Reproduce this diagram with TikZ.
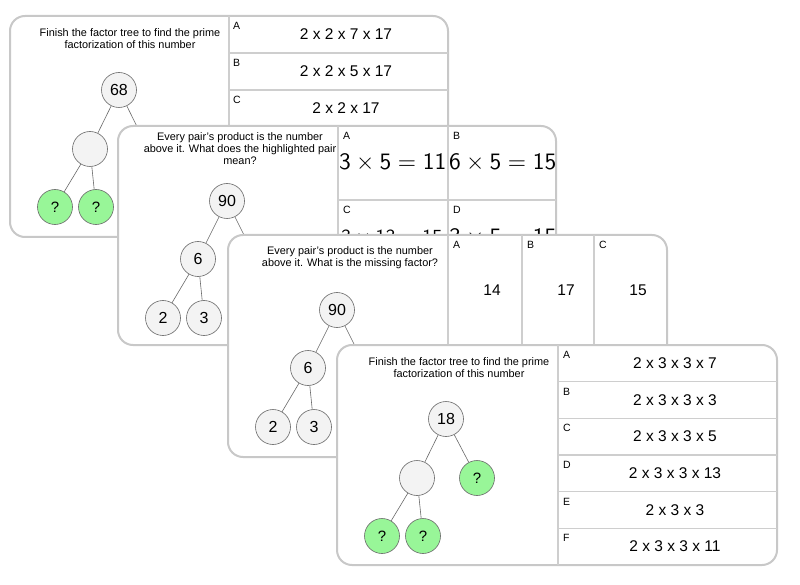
\documentclass[tikz,border=0pt]{standalone}
\usepackage{graphicx}
\usepackage[no-math]{fontspec}
\setmainfont{Liberation Sans}
\definecolor{cardline}{RGB}{200,200,200}
\definecolor{gridline}{RGB}{206,206,206}
\definecolor{nodefill}{RGB}{243,243,243}
\definecolor{nodeline}{RGB}{105,105,105}
\definecolor{qgreen}{RGB}{152,246,152}
\newcommand{\bigmath}[2]{\scalebox{#1}{$#2$}}
\tikzset{
  card/.style={draw=cardline, line width=2pt, fill=white, rounded corners=15pt},
  gridln/.style={draw=gridline, line width=1.6pt},
  question/.style={align=center, inner sep=0pt, font=\fontsize{10.9}{12}\selectfont},
  letter/.style={anchor=north west, inner sep=0pt, font=\fontsize{10.5}{12}\selectfont},
  answer/.style={inner sep=0pt, font=\fontsize{15.5}{18}\selectfont},
  mathans/.style={anchor=west, inner sep=0pt},
  tnode/.style={circle, draw=nodeline, line width=0.6pt, fill=nodefill, minimum size=35pt, inner sep=0pt, font=\fontsize{16}{18}\selectfont},
  qnode/.style={tnode, fill=qgreen, font=\fontsize{15}{18}\selectfont},
  branch/.style={draw=nodeline, line width=0.6pt}
}
\begin{document}
\begin{tikzpicture}[x=1pt,y=-1pt]
\useasboundingbox (0,0) rectangle (800,585);

% card 1
\path[card] (10,16) rectangle (448,237);
\draw[gridln] (229,16) -- (229,237);
\foreach \y in {53,90,127,164,200}
    \draw[gridln] (229,\y) -- (448,\y);
\node[question] (q1) at (130,39) {Finish the factor tree to find the prime\\factorization of this number};
\foreach \l/\t [count=\i] in {A/{2 x 2 x 7 x 17},B/{2 x 2 x 5 x 17},C/{2 x 2 x 17}} {
    \node[letter] (l1\l) at (233,{16+36.8*(\i-1)+6}) {\l};
    \node[answer] (t1\l) at (346,{34+36.8*(\i-1)}) {\t};
}
\node[tnode] (r1) at (119,90) {68};
\node[tnode] (m1) at (90,149) {};
\node[qnode] (a1) at (55,207) {?};
\node[qnode] (b1) at (96,207) {?};
\coordinate (s1) at (148,149);
\draw[branch] (r1) -- (m1) (r1) -- (s1) (m1) -- (a1) (m1) -- (b1);

% card 2
\path[card] (118,126) rectangle (556,345);
\draw[gridln] (338,126) -- (338,345);
\draw[gridln] (448,126) -- (448,345);
\draw[gridln] (338,200) -- (556,200);
\draw[gridln] (338,274) -- (556,274);
\node[question] (q2) at (240,149) {Every pair's product is the number\\above it. What does the highlighted pair\\mean?};
\node[letter] (l2A) at (343,132) {A};
\node[letter] (l2B) at (453,132) {B};
\node[letter] (l2C) at (343,206) {C};
\node[letter] (l2D) at (453,206) {D};
\node[mathans] (t2A) at (339,163) {\bigmath{2.35}{\mathsf{3}\times\mathsf{5}=\mathsf{11}}};
\node[mathans] (t2B) at (449,163) {\bigmath{2.35}{\mathsf{6}\times\mathsf{5}=\mathsf{15}}};
\node[mathans] (t2C) at (341,238) {\bigmath{2.0}{\mathsf{3}\times\mathsf{13}=\mathsf{15}}};
\node[mathans] (t2D) at (449,238) {\bigmath{2.35}{\mathsf{3}\times\mathsf{5}=\mathsf{15}}};
\node[tnode] (r2) at (227,201) {90};
\node[tnode] (m2) at (198,259) {6};
\node[tnode] (a2) at (163,318) {2};
\node[tnode] (b2) at (204,318) {3};
\coordinate (s2) at (256,259);
\draw[branch] (r2) -- (m2) (r2) -- (s2) (m2) -- (a2) (m2) -- (b2);

% card 3
\path[card] (228,235) rectangle (667,457);
\foreach \x in {448,522,594}
    \draw[gridln] (\x,235) -- (\x,457);
\draw[gridln] (448,346) -- (667,346);
\node[question] (q3) at (350,258) {Every pair's product is the number\\above it. What is the missing factor?};
\foreach \l/\t/\x in {A/14/448,B/17/522,C/15/594} {
    \node[letter] (l3\l) at (\x+5,241) {\l};
    \node[answer] (t3\l) at (\x+44,290) {\t};
}
\node[tnode] (r3) at (337,310) {90};
\node[tnode] (m3) at (308,368) {6};
\node[tnode] (a3) at (273,427) {2};
\node[tnode] (b3) at (314,427) {3};
\coordinate (s3) at (366,368);
\draw[branch] (r3) -- (m3) (r3) -- (s3) (m3) -- (a3) (m3) -- (b3);

% card 4
\path[card] (337,345) rectangle (777,565);
\draw[gridln] (558,345) -- (558,565);
\foreach \i in {1,...,5}
    \draw[gridln] (558,{345+36.67*\i}) -- (777,{345+36.67*\i});
\node[question] (q4) at (459,368) {Finish the factor tree to find the prime\\factorization of this number};
\foreach \l/\t [count=\i] in {A/{2 x 3 x 3 x 7},B/{2 x 3 x 3 x 3},C/{2 x 3 x 3 x 5},D/{2 x 3 x 3 x 13},E/{2 x 3 x 3},F/{2 x 3 x 3 x 11}} {
    \node[letter] (l4\l) at (563,{345+36.67*(\i-1)+6}) {\l};
    \node[answer] (t4\l) at (675,{363+36.67*(\i-1)}) {\t};
}
\node[tnode] (r4) at (446,419) {18};
\node[tnode] (m4) at (417,478) {};
\node[qnode] (c4) at (477,478) {?};
\node[qnode] (a4) at (382,536) {?};
\node[qnode] (b4) at (423,536) {?};
\draw[branch] (r4) -- (m4) (r4) -- (c4) (m4) -- (a4) (m4) -- (b4);
\end{tikzpicture}
\end{document}
